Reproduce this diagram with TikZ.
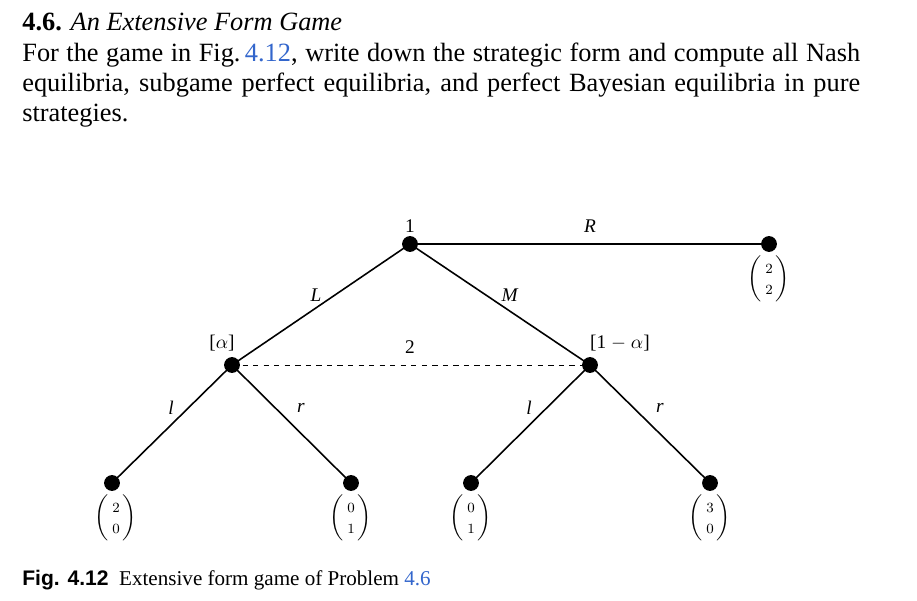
\documentclass[tikz,border=0pt]{standalone}
\usepackage{amsmath}
\usepackage{fontspec}
\setmainfont{Liberation Serif}
\newfontfamily\capsans{Liberation Sans}
\newcommand{\payv}[2]{$\biggl(\begin{array}{@{\,}c@{\,}}\scriptstyle #1\\[-1pt]\scriptstyle #2\end{array}\biggr)$}
\begin{document}
\begin{tikzpicture}[x=0.02cm,y=-0.02cm,
  dot/.style={circle,fill=black,inner sep=0pt,minimum size=9pt},
  edge/.style={line width=0.9pt},
  lab/.style={font=\fontsize{11}{13}\selectfont},
  pay/.style={font=\fontsize{11}{13}\selectfont,inner sep=0pt}]
\useasboundingbox (0,0) rectangle (917,601);
\node[anchor=north west,inner sep=0pt,text width=16.76cm,align=justify,font=\fontsize{15}{17.2}\selectfont] (txt) at (22,13)
{\textbf{4.6.} \textit{An Extensive Form Game}\\
For the game in Fig.\,\textcolor[rgb]{0.2,0.4,0.8}{4.12}, write down the strategic form and compute all Nash equilibria, subgame perfect equilibria, and perfect Bayesian equilibria in pure strategies.};
\node[dot] (root) at (410,244) {};
\node[dot] (rend) at (769,244) {};
\node[dot] (a) at (232,365) {};
\node[dot] (b) at (590,365) {};
\node[dot] (l1) at (112,483) {};
\node[dot] (l2) at (351,483) {};
\node[dot] (l3) at (471,483) {};
\node[dot] (l4) at (710,483) {};
\draw[edge] (root.center) -- (rend.center);
\draw[edge] (root.center) -- (a.center);
\draw[edge] (root.center) -- (b.center);
\draw[edge] (a.center) -- (l1.center);
\draw[edge] (a.center) -- (l2.center);
\draw[edge] (b.center) -- (l3.center);
\draw[edge] (b.center) -- (l4.center);
\draw[dashed,line width=0.5pt] (a.center) -- (b.center);
\node[lab] (n1) at (410,226) {1};
\node[lab] (nR) at (590,226) {\textit{R}};
\node[lab] (nL) at (316,295) {\textit{L}};
\node[lab] (nM) at (510,295) {\textit{M}};
\node[lab] (na) at (222,343) {[$\alpha$]};
\node[lab] (n2) at (410,347) {2};
\node[lab] (nb) at (620,343) {[1 $-$ $\alpha$]};
\node[lab] (nl1) at (171,408) {\textit{l}};
\node[lab] (nr1) at (301,408) {\textit{r}};
\node[lab] (nl2) at (529,408) {\textit{l}};
\node[lab] (nr2) at (660,408) {\textit{r}};
\node[pay] (p0) at (769,279) {\payv{2}{2}};
\node[pay] (p1) at (116,518) {\payv{2}{0}};
\node[pay] (p2) at (351,518) {\payv{0}{1}};
\node[pay] (p3) at (471,518) {\payv{0}{1}};
\node[pay] (p4) at (710,518) {\payv{3}{0}};
\node[anchor=west,inner sep=0pt,font=\fontsize{12}{14}\selectfont] (cap) at (22,580)
{{\capsans\bfseries Fig. 4.12}\ \ Extensive form game of Problem \textcolor[rgb]{0.2,0.4,0.8}{4.6}};
\end{tikzpicture}
\end{document}
